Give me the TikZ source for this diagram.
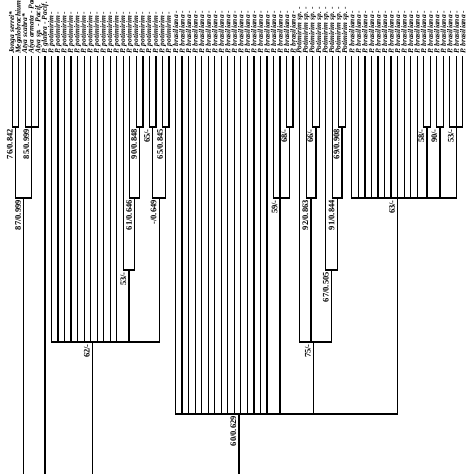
\documentclass[tikz,border=0pt]{standalone}
\usepackage{fontspec}
\setmainfont{Liberation Serif}
\begin{document}
\begin{tikzpicture}[x=1pt,y=-1pt,
  branch/.style={line width=1.2pt},
  taxon/.style={rotate=90,anchor=west,inner sep=0pt,
    font=\fontsize{7.5}{8}\selectfont\bfseries\itshape},
  support/.style={rotate=90,anchor=south east,inner sep=0pt,
    font=\fontsize{8.5}{9}\selectfont\bfseries}]

\useasboundingbox (0,0) rectangle (474,474);
\coordinate (base) at (0,476);

% leaves
\foreach \i in {1,...,70}
  \coordinate (l\i) at ({12.3+(\i-1)*6.53},56);

% taxon names
\foreach \i/\name in {1/Jonga serrei*, 2/Megalobrachium sp.*, 3/Atya scabra*,
    4/Atya armata - Pacif., 5/Atya sp. - Pacif., 6/P. glabra - Pacif.}
  \node[taxon] (t\i) at ([yshift=2pt]l\i) {\name};
\foreach \i in {7,...,25}
  \node[taxon] (t\i) at ([yshift=2pt]l\i) {P. potimirim -};
\foreach \i in {26,...,44,53,54,...,70}
  \node[taxon] (t\i) at ([yshift=2pt]l\i) {P. brasiliana -};
\foreach \i in {45,...,52}
  \node[taxon] (t\i) at ([yshift=2pt]l\i) {Potimirim sp. -};

% internal nodes
\coordinate (n76) at (15.57,127);
\coordinate (n85) at (31.89,127);
\coordinate (n90a) at (139.64,127);
\coordinate (n65a) at (152.70,127);
\coordinate (n65b) at (165.76,127);
\coordinate (n68) at (289.83,127);
\coordinate (n66) at (315.95,127);
\coordinate (n69) at (342.07,127);
\coordinate (n58) at (426.96,127);
\coordinate (n90b) at (440.02,127);
\coordinate (n53b) at (456.34,127);
%
\coordinate (n87) at (23.73,198);
\coordinate (n61) at (134.74,198);
\coordinate (n649) at (159.23,198);
\coordinate (n59) at (280.03,198);
\coordinate (n92) at (311.05,198);
\coordinate (n91) at (337.17,198);
\coordinate (n63) at (397.57,198);
%
\coordinate (n53a) at (129.03,270);
\coordinate (n67) at (331.45,270);
%
\coordinate (n62) at (92.5,342);
\coordinate (n75) at (313.5,342);
%
\coordinate (n60) at (239,414);

% branches
\foreach \p/\c in {n76/l1, n76/l2, n85/l3, n85/l4, n85/l5,
    n90a/l20, n90a/l21, n65a/l22, n65a/l23, n65b/l24, n65b/l25,
    n68/l43, n68/l44, n66/l47, n66/l48, n69/l51, n69/l52,
    n58/l64, n58/l65, n90b/l66, n90b/l67, n53b/l68, n53b/l69, n53b/l70,
    n87/n76, n87/n85, n61/l19, n61/n90a, n649/n65a, n649/n65b,
    n59/l41, n59/l42, n59/n68, n92/l46, n92/n66, n91/l50, n91/n69,
    n63/n58, n63/n90b, n63/n53b,
    n53a/l18, n53a/n61, n67/l49, n67/n91,
    n62/n53a, n62/n649, n75/l45, n75/n92, n75/n67,
    n60/n59, n60/n75, n60/n63}
  \draw[branch] (\p) -| (\c);
\foreach \i in {53,...,63}
  \draw[branch] (n63) -| (l\i);
\foreach \i in {7,...,17}
  \draw[branch] (n62) -| (l\i);
\foreach \i in {26,...,40}
  \draw[branch] (n60) -| (l\i);

% stems to the root
\foreach \c in {n87, l6, n62, n60}
  \draw[branch] (\c) -- (\c |- base);

% support values
\foreach \n/\v in {n76/76\slash 0.842, n85/85\slash 0.999, n87/87\slash 0.999,
    n90a/90\slash 0.848, n61/61\slash 0.646, n53a/53\slash -,
    n65a/65\slash -, n65b/65\slash 0.845, n649/-\slash 0.649,
    n62/62\slash -, n68/68\slash -, n59/59\slash -,
    n66/66\slash -, n92/92\slash 0.863, n69/69\slash 0.908,
    n91/91\slash 0.844, n67/67\slash 0.505, n75/75\slash -,
    n58/58\slash -, n90b/90\slash -, n53b/53\slash -, n63/63\slash -,
    n60/60\slash 0.629}
  \node[support] (s\n) at ([xshift=-2.5pt,yshift=-2pt]\n) {\v};

\end{tikzpicture}
\end{document}
